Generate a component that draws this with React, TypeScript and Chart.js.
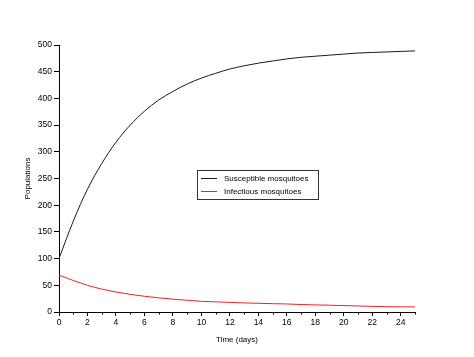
import React, { useEffect, useRef } from "react";
import { Chart, registerables } from "chart.js";

Chart.register(...registerables);

const times = [0, 1, 2, 3, 4, 5, 6, 7, 8, 9, 10, 11, 12, 13, 14, 15, 16, 17, 18, 19, 20, 21, 22, 23, 24, 25];
const susceptible = [100, 170, 230, 278, 318, 350, 376, 397, 413, 427, 438, 447, 455, 461, 466, 470, 474, 477, 479, 481, 483, 485, 486, 487, 488, 489];
const infectious = [69, 59, 50, 43, 37.5, 33, 29.5, 26.5, 24, 22, 20, 19, 18, 17, 16.3, 15.6, 15, 14, 13.3, 12.7, 12, 11.3, 10.5, 10, 9.7, 9.5];
const minorXTicks = [1, 3, 5, 7, 9, 11, 13, 15, 17, 19, 21, 23, 25];
const seriesNames = ["Susceptible mosquitoes", "Infectious mosquitoes"];
const seriesColors = ["#1a1a1a", "#ee2222"];

const FONT = "'Liberation Sans', Arial, sans-serif";

const minorTickPlugin = {
  id: "minorTicks",
  afterDraw(chart: any) {
    const ctx = chart.ctx;
    const xs = chart.scales.x;
    const y0 = chart.chartArea.bottom;
    ctx.save();
    ctx.strokeStyle = "#000";
    ctx.lineWidth = 1;
    ctx.beginPath();
    for (const v of minorXTicks) {
      const px = Math.round(xs.getPixelForValue(v)) + 0.5;
      ctx.moveTo(px, y0);
      ctx.lineTo(px, y0 + 2.5);
    }
    ctx.stroke();
    ctx.restore();
  },
};

const boxLegendPlugin = {
  id: "boxLegend",
  afterDraw(chart: any) {
    const ctx = chart.ctx;
    const bx = 197.5, by = 170.5, bw = 121, bh = 29;
    ctx.save();
    ctx.fillStyle = "#fff";
    ctx.fillRect(bx, by, bw, bh);
    ctx.strokeStyle = "#333";
    ctx.lineWidth = 1;
    ctx.strokeRect(bx, by, bw, bh);
    ctx.font = `8px ${FONT}`;
    ctx.textBaseline = "middle";
    ctx.textAlign = "left";
    const rows = [178.5, 191.5];
    seriesNames.forEach((name, i) => {
      ctx.strokeStyle = seriesColors[i];
      ctx.beginPath();
      ctx.moveTo(201, rows[i]);
      ctx.lineTo(217, rows[i]);
      ctx.stroke();
      ctx.fillStyle = "#000";
      ctx.fillText(name, 224, rows[i]);
    });
    ctx.restore();
  },
};

export default function App() {
  const ref = useRef<HTMLCanvasElement | null>(null);
  useEffect(() => {
    if (!ref.current) return;
    const chart = new Chart(ref.current, {
      type: "line",
      data: {
        datasets: [
          {
            label: seriesNames[0],
            data: times.map((t, i) => ({ x: t, y: susceptible[i] })),
            borderColor: seriesColors[0],
            borderWidth: 1,
            pointRadius: 0,
            cubicInterpolationMode: "monotone",
          },
          {
            label: seriesNames[1],
            data: times.map((t, i) => ({ x: t, y: infectious[i] })),
            borderColor: seriesColors[1],
            borderWidth: 1,
            pointRadius: 0,
            cubicInterpolationMode: "monotone",
          },
        ],
      },
      options: {
        animation: false,
        responsive: false,
        layout: { padding: { left: 0, right: 59, top: 45, bottom: 0 } },
        plugins: { legend: { display: false }, tooltip: { enabled: false } },
        scales: {
          x: {
            type: "linear",
            min: 0,
            max: 25,
            border: { display: true, color: "#000", width: 1 },
            grid: { drawOnChartArea: false, drawTicks: true, tickLength: 4, color: "#000" },
            ticks: {
              stepSize: 2,
              includeBounds: false,
              padding: 2,
              maxRotation: 0,
              color: "#000",
              font: { family: FONT, size: 8.5 },
            },
            title: {
              display: true,
              text: "Time (days)",
              color: "#000",
              font: { family: FONT, size: 8 },
              padding: { top: 0, bottom: 12 },
            },
            afterFit(scale: any) {
              scale.height = 45;
            },
          },
          y: {
            type: "linear",
            min: 0,
            max: 500,
            border: { display: true, color: "#000", width: 1 },
            grid: { drawOnChartArea: false, drawTicks: true, tickLength: 5, color: "#000" },
            ticks: {
              stepSize: 50,
              padding: 2,
              color: "#000",
              font: { family: FONT, size: 8.5 },
            },
            title: {
              display: true,
              text: "Populations",
              color: "#000",
              font: { family: FONT, size: 8 },
              padding: { top: 23, bottom: 0 },
            },
            afterFit(scale: any) {
              scale.width = 59;
            },
          },
        },
      },
      plugins: [minorTickPlugin, boxLegendPlugin],
    });
    return () => chart.destroy();
  }, []);
  return (
    <div style={{ position: "fixed", left: 0, top: 0, width: 474, height: 357, background: "#fff" }}>
      <canvas ref={ref} width={474} height={357} style={{ display: "block" }} />
    </div>
  );
}
